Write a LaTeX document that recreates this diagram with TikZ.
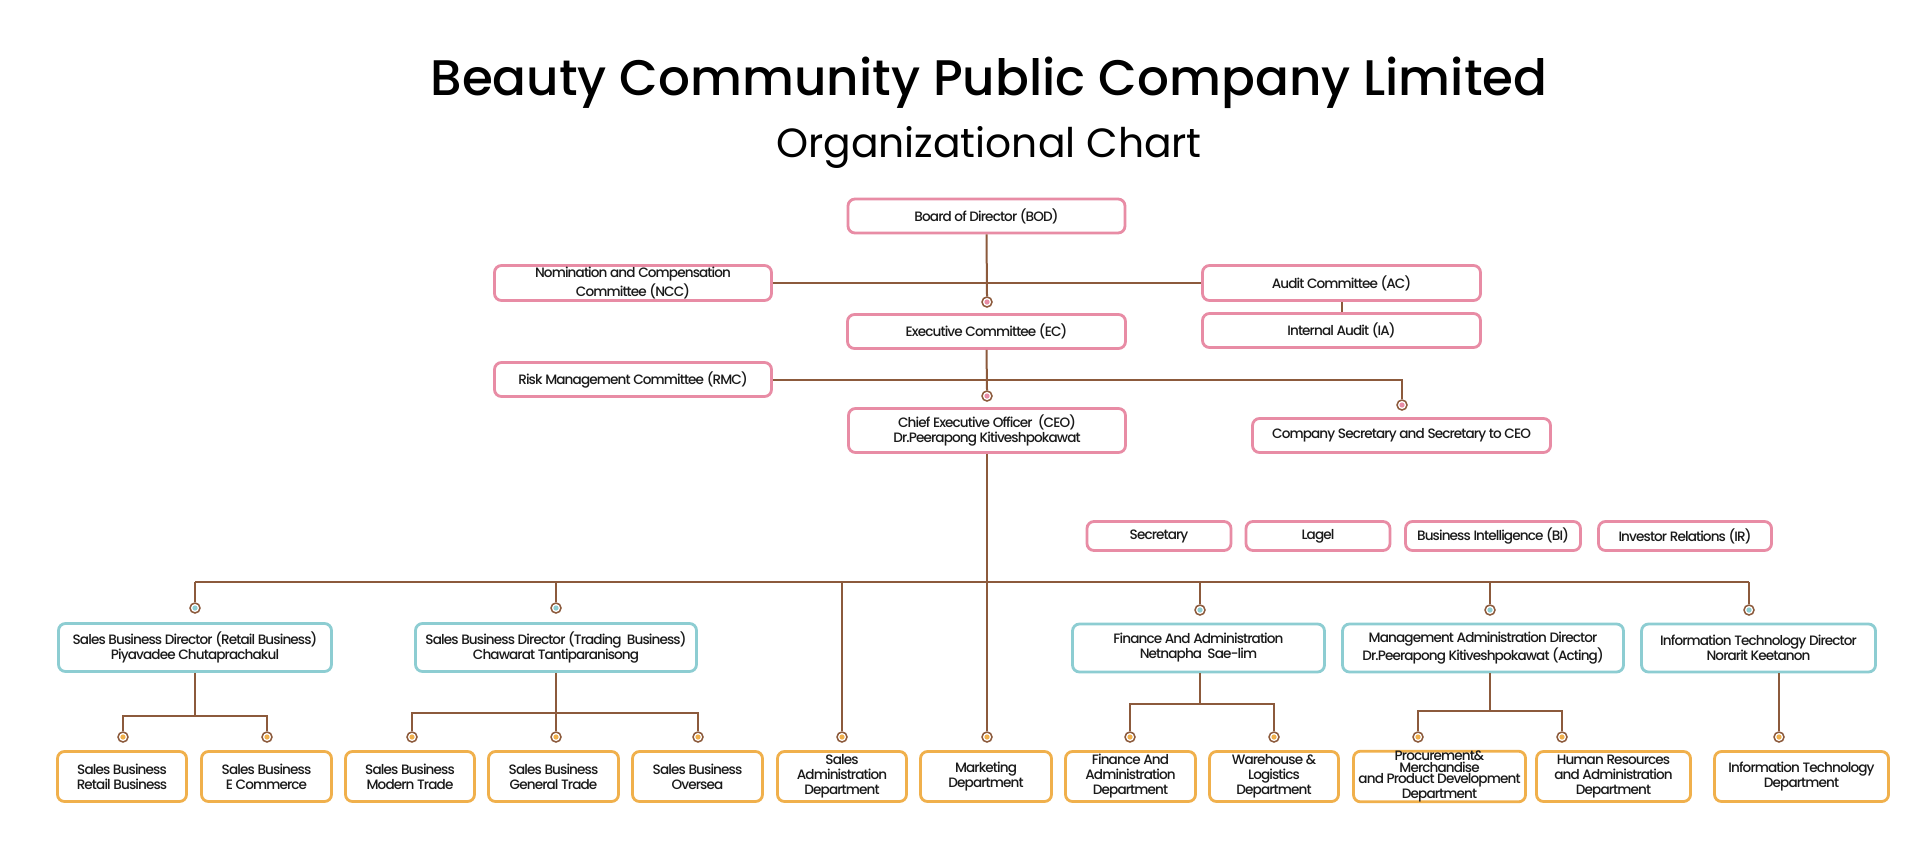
\documentclass[tikz,border=0pt]{standalone}
\usepackage{fontspec}
\setmainfont{Poppins}
\newfontfamily\titlefont{Poppins Medium}
\newfontfamily\boxfont{Poppins Medium}[LetterSpace=-6.5]
\definecolor{pinkc}{HTML}{E88CA5}
\definecolor{tealc}{HTML}{8DCDD2}
\definecolor{orangec}{HTML}{F0B04C}
\definecolor{brownc}{HTML}{8C5A3C}
\definecolor{textc}{HTML}{1A1A1A}
\begin{document}
\begin{tikzpicture}[x=0.5pt,y=-0.5pt,
  box/.style={draw, line width=1.4pt, rounded corners=3.5pt, fill=white, align=center, inner sep=0pt, text=textc, font=\boxfont\fontsize{6.8}{7.5}\selectfont},
  pbox/.style={box, draw=pinkc},
  tbox/.style={box, draw=tealc},
  obox/.style={box, draw=orangec},
  sz/.style 2 args={minimum width=(#1-3)*0.5pt, minimum height=(#2-3)*0.5pt},
  conn/.style={draw=brownc, line width=1pt},
  mk/.style={circle, draw=brownc, line width=0.75pt, fill=white, minimum size=5pt, inner sep=0pt,
     path picture={\fill[#1] (path picture bounding box.center) circle (1.3pt);}},
]
\useasboundingbox[fill=white] (0,0) rectangle (1920,853);

% titles
\node[anchor=base, font=\titlefont\fontsize{25}{27}\selectfont] (title) at (989,95) {Beauty Community Public Company Limited};
\node[anchor=base, font=\fontsize{20.4}{22}\selectfont] (subtitle) at (989,157) {Organizational Chart};

% pink boxes
\node[pbox, sz={280}{37}] (bod) at (986.5,216) {Board of Director (BOD)};
\node[pbox, sz={280}{38}] (ncc) at (633,283) {Nomination and Compensation\\Committee (NCC)};
\node[pbox, sz={281}{38}] (ac) at (1341.5,283) {Audit Committee (AC)};
\node[pbox, sz={281}{37}] (ia) at (1341.5,330.5) {Internal Audit (IA)};
\node[pbox, sz={281}{37}] (ec) at (986.5,331.5) {Executive Committee (EC)};
\node[pbox, sz={280}{37}] (rmc) at (633,379.5) {Risk Management Committee (RMC)};
\node[pbox, sz={280}{47}] (ceo) at (987,430.5) {Chief Executive Officer~ (CEO)\\Dr.Peerapong Kitiveshpokawat};
\node[pbox, sz={301}{37}] (cs) at (1401.5,435.5) {Company Secretary and Secretary to CEO};
\node[pbox, sz={147}{32}] (sec) at (1159,536) {Secretary};
\node[pbox, sz={147}{32}] (lag) at (1318,536) {Lagel};
\node[pbox, sz={178}{32}] (bi) at (1493,536) {Business Intelligence (BI)};
\node[pbox, sz={176}{32}] (ir) at (1685,536) {Investor Relations (IR)};

% teal directors
\node[tbox, sz={276}{51}] (d1) at (195,647.5) {Sales Business Director (Retail Business)\\Piyavadee Chutaprachakul};
\node[tbox, sz={284}{51}] (d2) at (556,647.5) {Sales Business Director (Trading~ Business)\\Chawarat Tantiparanisong};
\node[tbox, sz={255}{51}] (d3) at (1198.5,648) {Finance And Administration\\Netnapha~ Sae-lim};
\node[tbox, sz={284}{51}] (d4) at (1483,648) {Management Administration Director\\Dr.Peerapong Kitiveshpokawat (Acting)};
\node[tbox, sz={237}{51}] (d5) at (1758.5,648) {Information Technology Director\\Norarit Keetanon};

% orange departments
\node[obox, sz={132}{53}] (o1) at (122,776.5) {Sales Business\\Retail Business};
\node[obox, sz={133}{53}] (o2) at (266.5,776.5) {Sales Business\\E Commerce};
\node[obox, sz={132}{53}] (o3) at (410,776.5) {Sales Business\\Modern Trade};
\node[obox, sz={133}{53}] (o4) at (553.5,776.5) {Sales Business\\General Trade};
\node[obox, sz={133}{53}] (o5) at (697.5,776.5) {Sales Business\\Oversea};
\node[obox, sz={132}{53}] (o6) at (842,776.5) {Sales\\Administration\\Department};
\node[obox, sz={134}{53}] (o7) at (986,776.5) {Marketing\\Department};
\node[obox, sz={133}{53}] (o8) at (1130.5,776.5) {Finance And\\Administration\\Department};
\node[obox, sz={132}{53}] (o9) at (1274,776.5) {Warehouse \&\\Logistics\\Department};
\node[obox, sz={175}{53}, font=\boxfont\fontsize{6.8}{5.6}\selectfont] (o10) at (1439.5,776.5) {Procurement\&\\Merchandise\\and Product Development\\Department};
\node[obox, sz={157}{53}] (o11) at (1613.5,776.5) {Human Resources\\and Administration\\Department};
\node[obox, sz={177}{53}] (o12) at (1801.5,776.5) {Information Technology\\Department};

% markers
\node[mk=pinkc] (mec) at (987,302) {};
\node[mk=pinkc] (mceo) at (987,396) {};
\node[mk=pinkc] (mcs) at (1402,405) {};
\node[mk=tealc] (md1) at (195,608) {};
\node[mk=tealc] (md2) at (556,608) {};
\node[mk=tealc] (md3) at (1200,610) {};
\node[mk=tealc] (md4) at (1490,610) {};
\node[mk=tealc] (md5) at (1749,610) {};
\node[mk=orangec] (mo1) at (123,737) {};
\node[mk=orangec] (mo2) at (267,737) {};
\node[mk=orangec] (mo3) at (412,737) {};
\node[mk=orangec] (mo4) at (556,737) {};
\node[mk=orangec] (mo5) at (698,737) {};
\node[mk=orangec] (mo6) at (842,737) {};
\node[mk=orangec] (mo7) at (987,737) {};
\node[mk=orangec] (mo8) at (1130,737) {};
\node[mk=orangec] (mo9) at (1274,737) {};
\node[mk=orangec] (mo10) at (1418,737) {};
\node[mk=orangec] (mo11) at (1562,737) {};
\node[mk=orangec] (mo12) at (1779,737) {};

% connectors top
\draw[conn] (bod.south) -- (mec.north);
\draw[conn] (ncc.east) -- (ac.west);
\draw[conn] (ac.south) -- (ia.north);
\draw[conn] (ec.south) -- (mceo.north);
\draw[conn] (rmc.east) -| (mcs.north);
\draw[conn] (ceo.south) -- (mo7.north);

% bus
\coordinate (busL) at (195,582);
\coordinate (busR) at (1749,582);
\draw[conn] (busL) -- (busR);
\draw[conn] (busL) -- (md1.north);
\draw[conn] (md2.north |- busL) -- (md2.north);
\draw[conn] (md3.north |- busL) -- (md3.north);
\draw[conn] (md4.north |- busL) -- (md4.north);
\draw[conn] (busR) -- (md5.north);
\draw[conn] (mo6.north |- busL) -- (mo6.north);

% sub trees
\coordinate (s1) at (195,716);
\draw[conn] (d1.south) -- (s1);
\draw[conn] (mo1.north) |- (s1) -| (mo2.north);
\coordinate (s2) at (556,713);
\draw[conn] (d2.south) -- (s2);
\draw[conn] (mo3.north) |- (s2) -| (mo5.north);
\draw[conn] (s2) -- (mo4.north);
\coordinate (s3) at (1200,704);
\draw[conn] (s3 |- d3.south) -- (s3);
\draw[conn] (mo8.north) |- (s3) -| (mo9.north);
\coordinate (s4) at (1490,711);
\draw[conn] (s4 |- d4.south) -- (s4);
\draw[conn] (mo10.north) |- (s4) -| (mo11.north);
\draw[conn] (mo12.north |- d5.south) -- (mo12.north);
\end{tikzpicture}
\end{document}
